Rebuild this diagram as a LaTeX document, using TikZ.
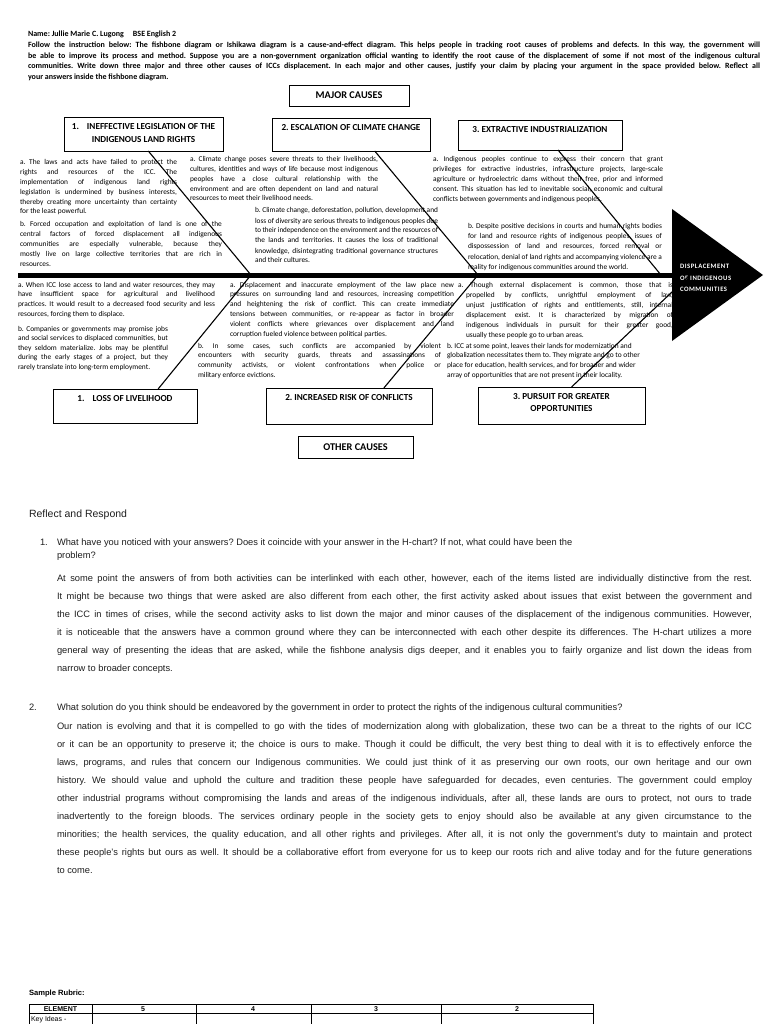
\documentclass[tikz,border=0pt]{standalone}
\usepackage{fontspec}
\usepackage{graphicx}
\setmainfont{Carlito}
\newfontfamily\arialf{Liberation Sans}
\newfontfamily\headf[LetterSpace=8]{Carlito}
\usetikzlibrary{calc}
\frenchspacing
\newlength\jlw
\newlength\bw
\newcommand\jl[2]{\settowidth\jlw{#2}\ifdim\jlw>#1\relax\resizebox{#1}{\height}{#2}\else\makebox[#1][s]{#2}\fi}
\newcommand\jr[2]{\settowidth\jlw{#2}\ifdim\jlw>#1\relax\resizebox{#1}{\height}{#2}\else #2\fi}
\newcommand\J[1]{\hbox{\jl{\bw}{#1}}}
\newcommand\R[1]{\hbox{\jr{\bw}{#1}}}
\newcommand\blk[3]{\vtop{\bw=#1\relax\baselineskip=#2\relax\lineskiplimit=-\maxdimen #3}}
\begin{document}
\begin{tikzpicture}[x=1pt,y=-1pt,every node/.style={inner sep=0pt,outer sep=0pt}]
\tikzset{
 ftxt/.style={anchor=base west,font=\frenchspacing\fontsize{7.4}{9.8}\selectfont},
 htxt/.style={anchor=base west,font=\frenchspacing\bfseries\fontsize{8}{10.8}\selectfont},
 rtxt/.style={anchor=base west,font=\frenchspacing\arialf\fontsize{9.3}{18}\selectfont,text=black!88},
 cbox/.style={draw=black,line width=0.8pt,fill=white,anchor=north west,font=\bfseries\fontsize{9.2}{12.5}\selectfont},
 titlebox/.style={draw=black,line width=0.8pt,fill=white,anchor=north west,font=\bfseries\fontsize{10.3}{11}\selectfont},
 bone/.style={draw=black,line width=1.1pt},
 spine/.style={draw=black,line width=5pt},
 tbl/.style={draw=black,line width=0.6pt},
 tbltxt/.style={anchor=base,font=\arialf\bfseries\fontsize{7}{8}\selectfont},
}
\fill[white] (0,0) rectangle (768,1024);
\useasboundingbox (0,0) rectangle (768,1024);

% ---------- header ----------
\node[htxt] (hd1) at (28,36.5) {Name: Jullie Marie C. Lugong\hspace{9pt}BSE English 2};
\node[htxt] (hd2) at (28,47.3) {\blk{732pt}{10.8pt}{%
\J{Follow the instruction below: The fishbone diagram or Ishikawa diagram is a cause-and-effect diagram. This helps people in tracking root causes of problems and defects. In this way, the government will}%
\J{be able to improve its process and method. Suppose you are a non-government organization official wanting to identify the root cause of the displacement of some if not most of the indigenous cultural}%
\J{communities. Write down three major and three other causes of ICCs displacement. In each major and other causes, justify your claim by placing your argument in the space provided below. Reflect all}%
\R{your answers inside the fishbone diagram.}}};

% ---------- title boxes ----------
\node[titlebox,minimum width=120pt,minimum height=21pt] (major) at (289,85) {MAJOR CAUSES};
\node[titlebox,minimum width=115pt,minimum height=22pt] (other) at (298,436) {OTHER CAUSES};

% ---------- cause boxes ----------
\node[cbox] (tb1) at (64,117) {\parbox[c][34pt][t]{159pt}{\centering\vspace*{6.5pt}1.\hspace{8pt}INEFFECTIVE LEGISLATION OF THE\\INDIGENOUS LAND RIGHTS}};
\node[cbox] (tb2) at (272,118) {\parbox[c][33pt][t]{158pt}{\centering\vspace*{6pt}2. ESCALATION OF CLIMATE CHANGE}};
\node[cbox] (tb3) at (458,120) {\parbox[c][30pt][t]{164pt}{\centering\vspace*{6pt}3. EXTRACTIVE INDUSTRIALIZATION}};
\node[cbox] (bb1) at (53,389) {\parbox[c][34pt][t]{144pt}{\centering\vspace*{6pt}1.\hspace{8pt}LOSS OF LIVELIHOOD}};
\node[cbox] (bb2) at (266,388) {\parbox[c][36pt][t]{166pt}{\centering\vspace*{6.5pt}2. INCREASED RISK OF CONFLICTS}};
\node[cbox] (bb3) at (478,387) {\parbox[c][37pt][t]{167pt}{\centering\vspace*{6pt}3. PURSUIT FOR GREATER\\OPPORTUNITIES}};

% ---------- spine and head ----------
\coordinate (spL) at (18,275);
\coordinate (spR) at (673,275);
\coordinate (j1) at (251,275);
\coordinate (j2) at (478,275);
\coordinate (j3) at (661,275);
\coordinate (k1) at (251,275);
\coordinate (k2) at (478,275);
\coordinate (k3) at (690,275);
\draw[spine] (spL) -- (spR);
\fill[black] (672,209) -- (763,275) -- (672,341) -- cycle;
\node[anchor=base west,text=white,font=\headf\bfseries\fontsize{6.7}{11.5}\selectfont] (effect) at (680,268.5)
 {\vtop{\baselineskip=11.5pt\lineskiplimit=-\maxdimen\hbox{DISPLACEMENT}\hbox{OF INDIGENOUS}\hbox{COMMUNITIES}}};

% ---------- bones ----------
\draw[bone] ($(tb1.south west)!0.53!(tb1.south east)$) -- (j1);
\draw[bone] ($(tb2.south west)!0.65!(tb2.south east)$) -- (j2);
\draw[bone] ($(tb3.south west)!0.61!(tb3.south east)$) -- (j3);
\draw[bone] (k1) -- ($(bb1.north west)!0.73!(bb1.north east)$);
\draw[bone] (k2) -- ($(bb2.north west)!0.71!(bb2.north east)$);
\draw[bone] (k3) -- ($(bb3.north west)!0.56!(bb3.north east)$);

% ---------- top texts ----------
\node[ftxt] (t1a) at (20,165) {\blk{157pt}{9.8pt}{%
\J{a. The laws and acts have failed to protect the}%
\J{rights and resources of the ICC. The}%
\J{implementation of indigenous land rights}%
\J{legislation is undermined by business interests,}%
\J{thereby creating more uncertainty than certainty}%
\R{for the least powerful.}}};
\node[ftxt] (t1b) at (20,226.5) {\blk{202pt}{10pt}{%
\J{b. Forced occupation and exploitation of land is one of the}%
\J{central factors of forced displacement all indigenous}%
\J{communities are especially vulnerable, because they}%
\J{mostly live on large collective territories that are rich in}%
\R{resources.}}};
\node[ftxt] (t2a) at (190,162) {\blk{188pt}{9.7pt}{%
\J{a. Climate change poses severe threats to their livelihoods,}%
\J{cultures, identities and ways of life because most indigenous}%
\J{peoples have a close cultural relationship with the}%
\J{environment and are often dependent on land and natural}%
\R{resources to meet their livelihood needs.}}};
\node[ftxt] (t2b) at (255,213) {\blk{183pt}{10pt}{%
\J{b. Climate change, deforestation, pollution, development and}%
\J{loss of diversity are serious threats to indigenous peoples due}%
\J{to their independence on the environment and the resources of}%
\J{the lands and territories. It causes the loss of traditional}%
\J{knowledge, disintegrating traditional governance structures}%
\R{and their cultures.}}};
\node[ftxt] (t3a) at (433,162) {\blk{230pt}{10pt}{%
\J{a. Indigenous peoples continue to express their concern that grant}%
\J{privileges for extractive industries, infrastructure projects, large-scale}%
\J{agriculture or hydroelectric dams without their free, prior and informed}%
\J{consent. This situation has led to inevitable social, economic and cultural}%
\R{conflicts between governments and indigenous peoples.}}};
\node[ftxt] (t3b) at (468,229) {\blk{194pt}{10pt}{%
\J{b. Despite positive decisions in courts and human rights bodies}%
\J{for land and resource rights of indigenous peoples, issues of}%
\J{dispossession of land and resources, forced removal or}%
\J{relocation, denial of land rights and accompanying violence are a}%
\R{reality for indigenous communities around the world.}}};

% ---------- bottom texts ----------
\node[ftxt] (b1a) at (18,287) {\blk{197pt}{9.7pt}{%
\J{a. When ICC lose access to land and water resources, they may}%
\J{have insufficient space for agricultural and livelihood}%
\J{practices. It would result to a decreased food security and less}%
\R{resources, forcing them to displace.}}};
\node[ftxt] (b1b) at (18,331) {\blk{150pt}{9.6pt}{%
\J{b. Companies or governments may promise jobs}%
\J{and social services to displaced communities, but}%
\J{they seldom materialize. Jobs may be plentiful}%
\J{during the early stages of a project, but they}%
\R{rarely translate into long-term employment.}}};
\node[ftxt] (b2a) at (230,287) {\blk{224pt}{9.8pt}{%
\J{a. Displacement and inaccurate employment of the law place new}%
\J{pressures on surrounding land and resources, increasing competition}%
\J{and heightening the risk of conflict. This can create immediate}%
\J{tensions between communities, or re-appear as factor in broader}%
\J{violent conflicts where grievances over displacement and land}%
\R{corruption fueled violence between political parties.}}};
\node[ftxt] (b2b) at (198,348) {\blk{243pt}{9.7pt}{%
\J{b. In some cases, such conflicts are accompanied by violent}%
\J{encounters with security guards, threats and assassinations of}%
\J{community activists, or violent confrontations when police or}%
\R{military enforce evictions.}}};
\node[ftxt] (b3a) at (466,287) {\blk{207pt}{10pt}{%
\hbox{\kern-8pt\jl{215pt}{a. Though external displacement is common, those that is}}%
\J{propelled by conflicts, unrightful employment of law,}%
\J{unjust justification of rights and entitlements, still, internal}%
\J{displacement exist. It is characterized by migration of}%
\J{indigenous individuals in pursuit for their greater good,}%
\R{usually these people go to urban areas.}}};
\node[ftxt] (b3b) at (447,348) {\blk{193pt}{9.7pt}{%
\R{b. ICC at some point, leaves their lands for modernization and}%
\R{globalization necessitates them to. They migrate and go to other}%
\R{place for education, health services, and for broader and wider}%
\R{array of opportunities that are not present in their locality.}}};

% ---------- reflect and respond ----------
\node[rtxt,font=\arialf\fontsize{10.5}{12}\selectfont] (refl) at (29,517) {Reflect and Respond};
\node[rtxt] (q1n) at (40,545) {1.};
\node[rtxt] (q1) at (57,545) {\blk{600pt}{13pt}{%
\R{What have you noticed with your answers? Does it coincide with your answer in the H-chart? If not, what could have been the}%
\R{problem?}}};
\node[rtxt] (p1) at (57,581) {\blk{695pt}{18pt}{%
\J{At some point the answers of from both activities can be interlinked with each other, however, each of the items listed are individually distinctive from the rest.}%
\J{It might be because two things that were asked are also different from each other, the first activity asked about issues that exist between the government and}%
\J{the ICC in times of crises, while the second activity asks to list down the major and minor causes of the displacement of the indigenous communities. However,}%
\J{it is noticeable that the answers have a common ground where they can be interconnected with each other despite its differences. The H-chart utilizes a more}%
\J{general way of presenting the ideas that are asked, while the fishbone analysis digs deeper, and it enables you to fairly organize and list down the ideas from}%
\R{narrow to broader concepts.}}};
\node[rtxt] (q2n) at (29,710) {2.};
\node[rtxt] (q2) at (57,710) {What solution do you think should be endeavored by the government in order to protect the rights of the indigenous cultural communities?};
\node[rtxt] (p2) at (57,729) {\blk{695pt}{18pt}{%
\J{Our nation is evolving and that it is compelled to go with the tides of modernization along with globalization, these two can be a threat to the rights of our ICC}%
\J{or it can be an opportunity to preserve it; the choice is ours to make. Though it could be difficult, the very best thing to deal with it is to effectively enforce the}%
\J{laws, programs, and rules that concern our Indigenous communities. We could just think of it as preserving our own roots, our own heritage and our own}%
\J{history. We should value and uphold the culture and tradition these people have safeguarded for decades, even centuries. The government could employ}%
\J{other industrial programs without compromising the lands and areas of the indigenous individuals, after all, these lands are ours to protect, not ours to trade}%
\J{inadvertently to the foreign bloods. The services ordinary people in the society gets to enjoy should also be available at any given circumstance to the}%
\J{minorities; the health services, the quality education, and all other rights and privileges. After all, it is not only the government’s duty to maintain and protect}%
\J{these people’s rights but ours as well. It should be a collaborative effort from everyone for us to keep our roots rich and alive today and for the future generations}%
\R{to come.}}};

% ---------- rubric ----------
\node[anchor=base west,font=\arialf\bfseries\fontsize{7.6}{9}\selectfont] (rub) at (29,995) {Sample Rubric:};
\draw[tbl,line width=1pt] (29,1004) -- (593,1004);
\draw[tbl] (29,1013) -- (593,1013);
\foreach \cx in {29,92,196,311,441,593} {\draw[tbl] (\cx,1004) -- (\cx,1030);}
\node[tbltxt] (c0) at (60.5,1011) {ELEMENT};
\node[tbltxt] (c5) at (143,1011) {5};
\node[tbltxt] (c4) at (253,1011) {4};
\node[tbltxt] (c3) at (376,1011) {3};
\node[tbltxt] (c2) at (517,1011) {2};
\node[anchor=base west,font=\arialf\fontsize{7}{8}\selectfont] (ki) at (31,1021) {Key Ideas -};
\end{tikzpicture}
\end{document}
